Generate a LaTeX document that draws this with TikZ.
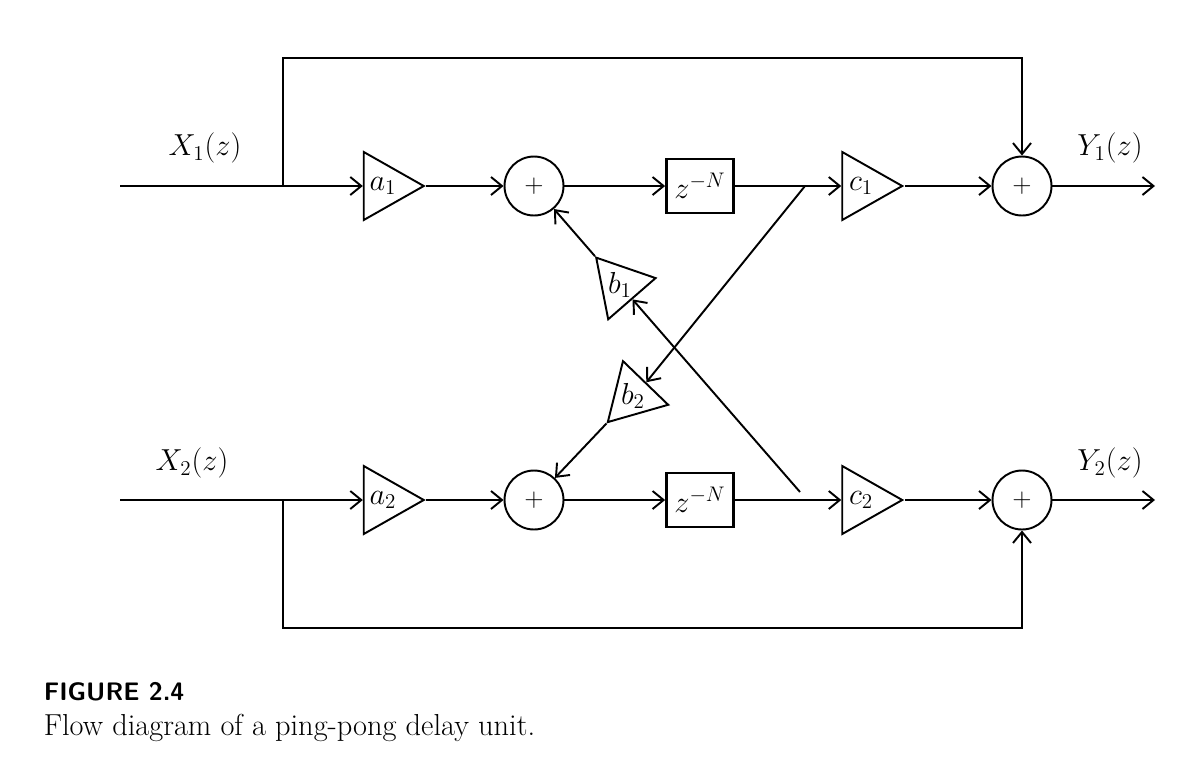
\documentclass[tikz,border=0pt]{standalone}
\usepackage{amsmath}
\usetikzlibrary{shapes.geometric,arrows.meta,calc}
\begin{document}
\begin{tikzpicture}[x=0.02cm,y=-0.02cm,
    line width=1.1pt,
    sig/.style={-{Straight Barb[length=2.2mm,width=3.6mm]}},
    amp/.style={draw, isosceles triangle, isosceles triangle stretches, minimum width=1.36cm, minimum height=1.2cm, inner sep=0pt, font=\LARGE},
    samp/.style={draw, isosceles triangle, isosceles triangle apex angle=60, shape border uses incircle, minimum size=0.62cm, inner sep=0pt, font=\LARGE},
    add/.style={draw, circle, minimum size=1.18cm, inner sep=0pt, font=\Large},
    dly/.style={draw, line width=1.6pt, minimum width=1.34cm, minimum height=1.08cm, inner sep=0pt, font=\LARGE},
    lbl/.style={font=\LARGE}
  ]
  \useasboundingbox (0,0) rectangle (1204,758);

  % top branch
  \coordinate (in1) at (120,186);
  \coordinate (sp1) at (283,186);
  \node[amp] (a1) at (383,186) {$a_1$};
  \node[add] (s1) at (534,186) {$+$};
  \node[dly] (d1) at (700,186) {$z^{-N}$};
  \coordinate (t1) at (805,186);
  \node[amp] (c1) at (861,186) {$c_1$};
  \node[add] (o1) at (1022,186) {$+$};
  \coordinate (out1) at (1155,186);
  \coordinate (u1) at (283,58);
  \coordinate (u2) at (1022,58);

  % bottom branch
  \coordinate (in2) at (120,500);
  \coordinate (sp2) at (283,500);
  \node[amp] (a2) at (383,500) {$a_2$};
  \node[add] (s2) at (534,500) {$+$};
  \node[dly] (d2) at (700,500) {$z^{-N}$};
  \coordinate (t2) at (800,492);
  \node[amp] (c2) at (861,500) {$c_2$};
  \node[add] (o2) at (1022,500) {$+$};
  \coordinate (out2) at (1155,500);
  \coordinate (l1) at (283,628);
  \coordinate (l2) at (1022,628);

  % cross gains
  \node[samp, shape border rotate=131] (b1) at (620,285) {$b_1$};
  \node[samp, shape border rotate=226] (b2) at (633,396) {$b_2$};

  % labels
  \node[lbl] (x1) at (205,148) {$X_1(z)$};
  \node[lbl] (y1) at (1110,148) {$Y_1(z)$};
  \node[lbl] (x2) at (192,463) {$X_2(z)$};
  \node[lbl] (y2) at (1110,463) {$Y_2(z)$};

  % connectors top
  \draw (in1) -- (sp1);
  \draw[sig] (sp1) -- (a1.west);
  \draw[sig] (a1.apex) -- (s1);
  \draw[sig] (s1) -- (d1);
  \draw (d1) -- (t1);
  \draw[sig] (t1) -- (c1.west);
  \draw[sig] (c1.apex) -- (o1);
  \draw[sig] (o1) -- (out1);
  \draw[sig] (sp1) -- (u1) -- (u2) -- (o1);

  % connectors bottom
  \draw (in2) -- (sp2);
  \draw[sig] (sp2) -- (a2.west);
  \draw[sig] (a2.apex) -- (s2);
  \draw[sig] (s2) -- (d2);
  \draw[sig] (d2) -- (c2.west);
  \draw[sig] (c2.apex) -- (o2);
  \draw[sig] (o2) -- (out2);
  \draw[sig] (sp2) -- (l1) -- (l2) -- (o2);

  % cross connectors
  \draw[sig] (t1) -- (b2.lower side);
  \draw[sig] (b2.apex) -- (s2);
  \draw[sig] (t2) -- (b1.lower side);
  \draw[sig] (b1.apex) -- (s1);

  % caption
  \node[anchor=west, font=\sffamily\bfseries\Large] (fig) at (37,692) {FIGURE 2.4};
  \node[anchor=west, font=\LARGE] (cap) at (37,728) {Flow diagram of a ping-pong delay unit.};
\end{tikzpicture}
\end{document}
